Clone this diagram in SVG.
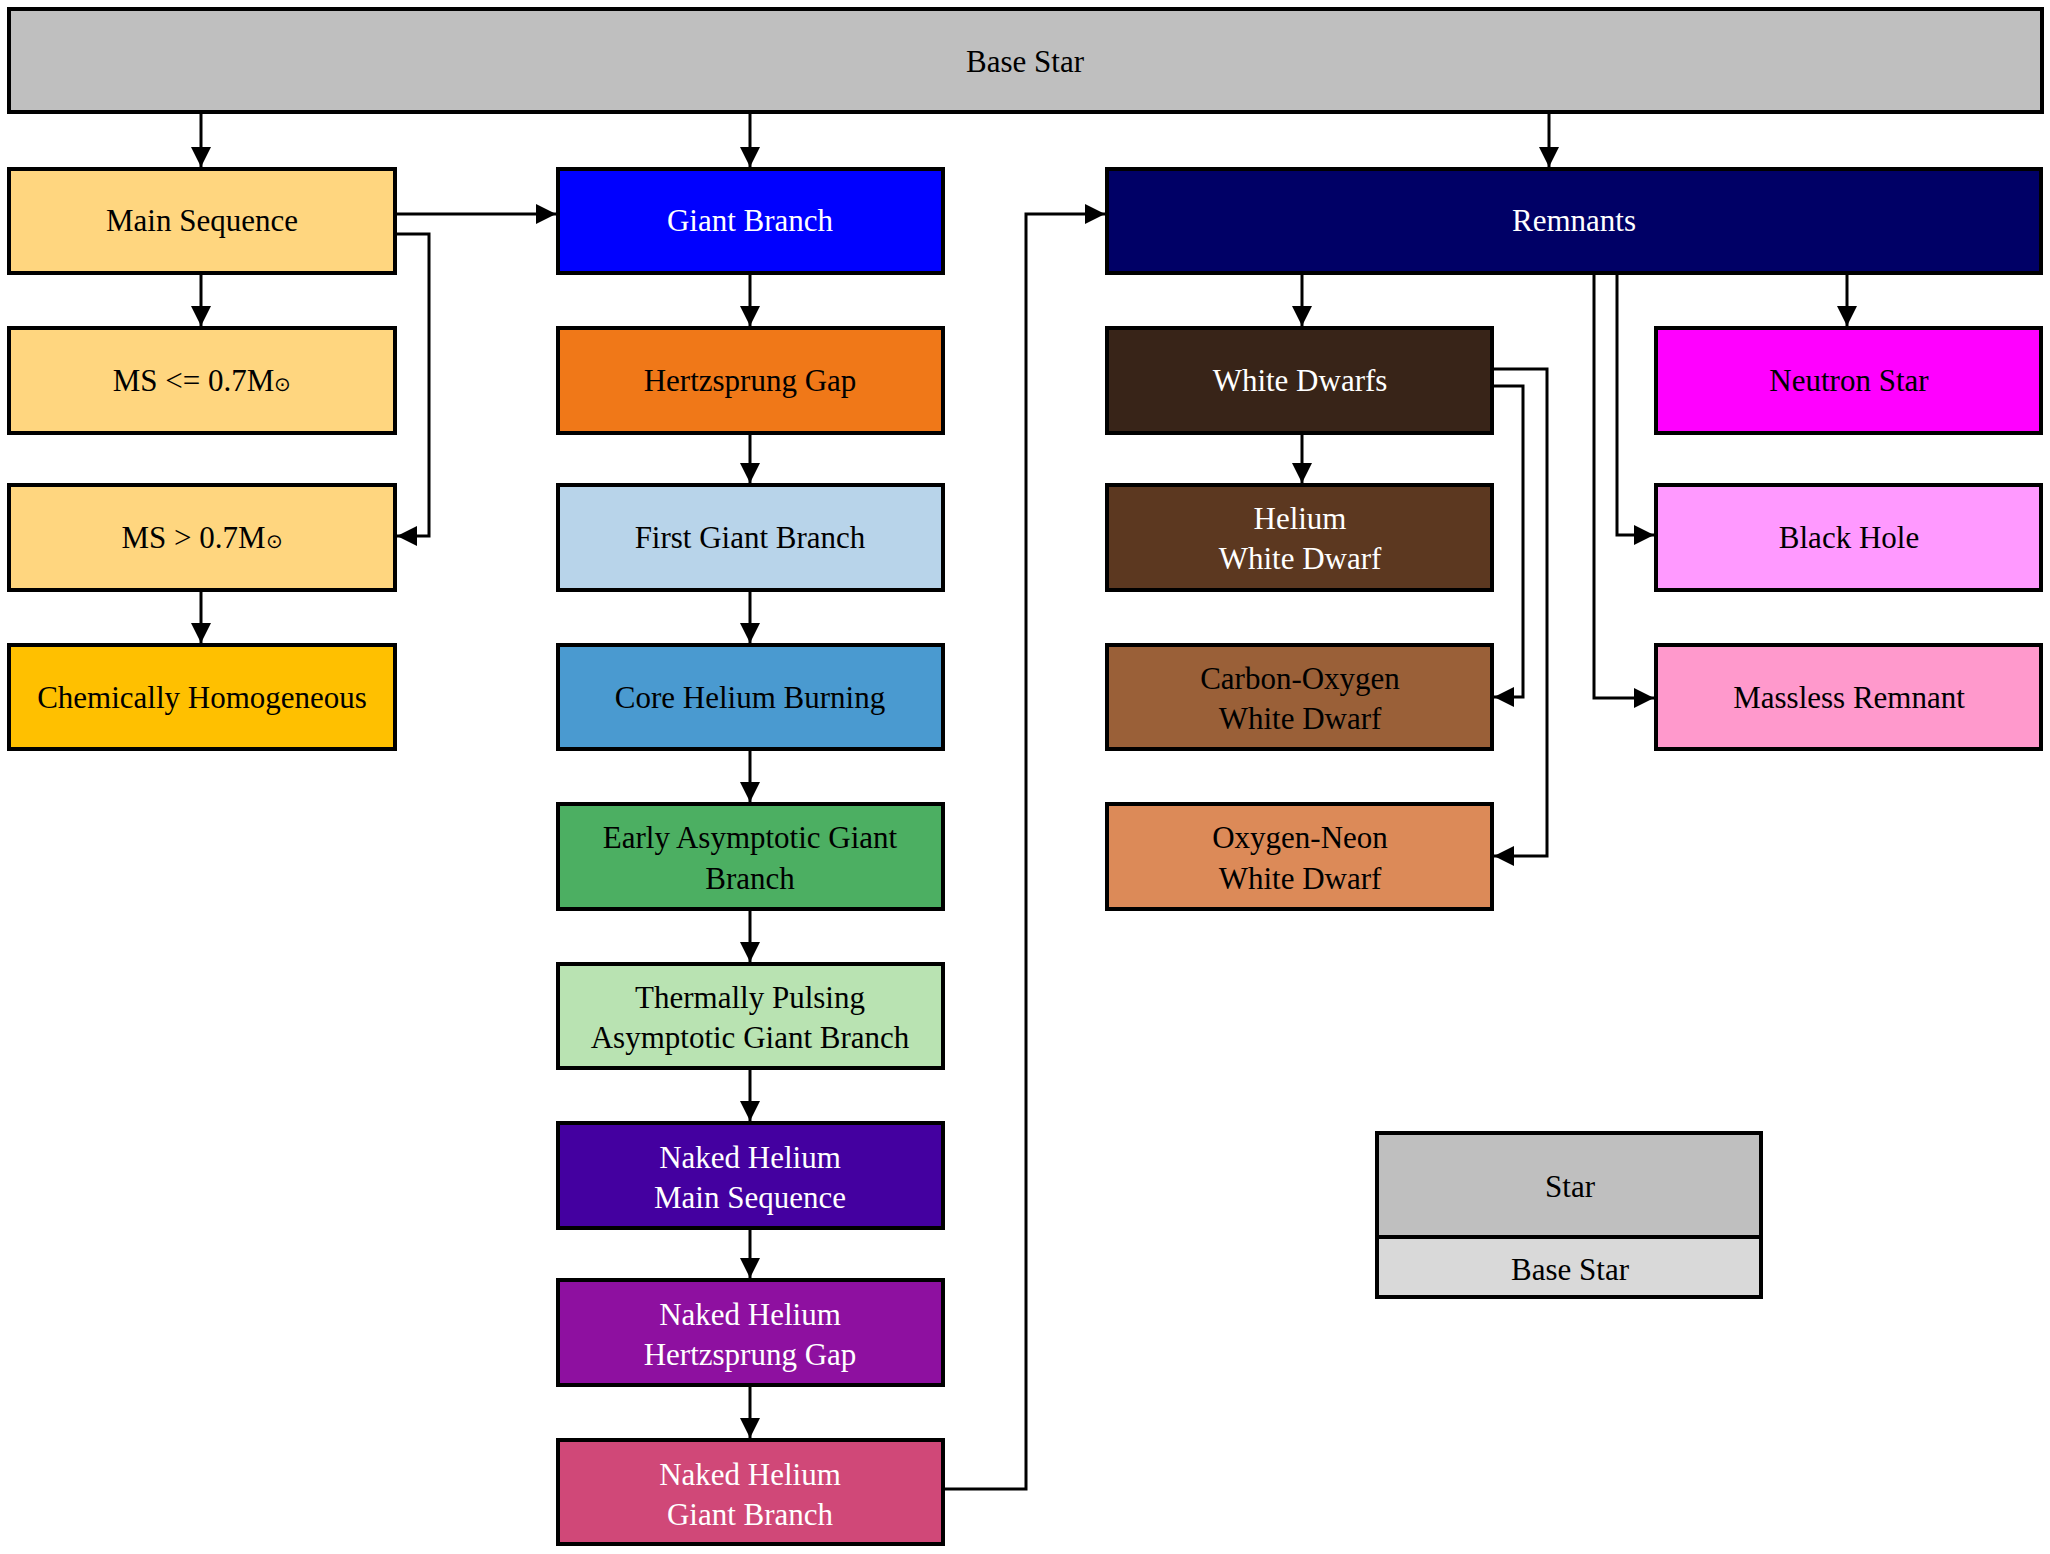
<svg xmlns="http://www.w3.org/2000/svg" width="2050" height="1554" viewBox="0 0 2050 1554">
<style>
rect{stroke:#000;stroke-width:4}
text{font-family:"Liberation Serif","Times New Roman",serif;font-size:31px;text-anchor:middle;fill:#000}
.w{fill:#fff}
.c path{fill:none;stroke:#000;stroke-width:3}
</style>
<defs><marker id="a" markerWidth="8" markerHeight="8" refX="7" refY="4" orient="auto" markerUnits="userSpaceOnUse" viewBox="0 0 8 8"><path d="M0,0L8,4L0,8z" fill="#000"/></marker>
<marker id="b" viewBox="0 0 10 10" refX="10" refY="5" markerWidth="20" markerHeight="20" markerUnits="userSpaceOnUse" orient="auto"><path d="M0,0L10,5L0,10z" fill="#000"/></marker></defs>
<g class="c">
<path d="M201,112V167" marker-end="url(#b)"/>
<path d="M750,112V167" marker-end="url(#b)"/>
<path d="M1549,112V167" marker-end="url(#b)"/>
<path d="M395,214H556" marker-end="url(#b)"/>
<path d="M395,234H429V536H397" marker-end="url(#b)"/>
<path d="M201,273V326" marker-end="url(#b)"/>
<path d="M201,590V643" marker-end="url(#b)"/>
<path d="M750,273V326" marker-end="url(#b)"/>
<path d="M750,433V483" marker-end="url(#b)"/>
<path d="M750,590V643" marker-end="url(#b)"/>
<path d="M750,749V802" marker-end="url(#b)"/>
<path d="M750,909V962" marker-end="url(#b)"/>
<path d="M750,1068V1121" marker-end="url(#b)"/>
<path d="M750,1228V1278" marker-end="url(#b)"/>
<path d="M750,1385V1438" marker-end="url(#b)"/>
<path d="M943,1489H1026V214H1105" marker-end="url(#b)"/>
<path d="M1302,273V326" marker-end="url(#b)"/>
<path d="M1847,273V326" marker-end="url(#b)"/>
<path d="M1617,273V535H1654" marker-end="url(#b)"/>
<path d="M1594,273V698H1654" marker-end="url(#b)"/>
<path d="M1302,433V483" marker-end="url(#b)"/>
<path d="M1492,386H1523V697H1494" marker-end="url(#b)"/>
<path d="M1492,369H1547V856H1494" marker-end="url(#b)"/>
</g>
<g id="base"><rect x="9" y="9" width="2033" height="103" fill="#bfbfbf"/><text x="1025" y="72">Base Star</text></g>
<g id="ms"><rect x="9" y="169" width="386" height="104" fill="#ffd67f"/><text x="202" y="231">Main Sequence</text></g>
<g id="msl"><rect x="9" y="328" width="386" height="105" fill="#ffd67f"/><text x="202" y="391">MS &lt;= 0.7M<tspan font-size="20">⊙</tspan></text></g>
<g id="msg"><rect x="9" y="485" width="386" height="105" fill="#ffd67f"/><text x="202" y="548">MS &gt; 0.7M<tspan font-size="20">⊙</tspan></text></g>
<g id="chem"><rect x="9" y="645" width="386" height="104" fill="#ffc000"/><text x="202" y="708">Chemically Homogeneous</text></g>
<g id="gb"><rect x="558" y="169" width="385" height="104" fill="#0000ff"/><text class="w" x="750" y="231">Giant Branch</text></g>
<g id="hg"><rect x="558" y="328" width="385" height="105" fill="#f07818"/><text x="750" y="391">Hertzsprung Gap</text></g>
<g id="fgb"><rect x="558" y="485" width="385" height="105" fill="#b8d4ea"/><text x="750" y="548">First Giant Branch</text></g>
<g id="cheb"><rect x="558" y="645" width="385" height="104" fill="#4a9ad0"/><text x="750" y="708">Core Helium Burning</text></g>
<g id="eagb"><rect x="558" y="804" width="385" height="105" fill="#4caf62"/><text x="750" y="848">Early Asymptotic Giant</text><text x="750" y="889">Branch</text></g>
<g id="tpagb"><rect x="558" y="964" width="385" height="104" fill="#b9e3b2"/><text x="750" y="1008">Thermally Pulsing</text><text x="750" y="1048">Asymptotic Giant Branch</text></g>
<g id="nhms"><rect x="558" y="1123" width="385" height="105" fill="#4400a0"/><text class="w" x="750" y="1168">Naked Helium</text><text class="w" x="750" y="1208">Main Sequence</text></g>
<g id="nhhg"><rect x="558" y="1280" width="385" height="105" fill="#8e10a0"/><text class="w" x="750" y="1325">Naked Helium</text><text class="w" x="750" y="1365">Hertzsprung Gap</text></g>
<g id="nhgb"><rect x="558" y="1440" width="385" height="104" fill="#d04878"/><text class="w" x="750" y="1485">Naked Helium</text><text class="w" x="750" y="1525">Giant Branch</text></g>
<g id="rem"><rect x="1107" y="169" width="934" height="104" fill="#000066"/><text class="w" x="1574" y="231">Remnants</text></g>
<g id="wd"><rect x="1107" y="328" width="385" height="105" fill="#382418"/><text class="w" x="1300" y="391">White Dwarfs</text></g>
<g id="hewd"><rect x="1107" y="485" width="385" height="105" fill="#5c3820"/><text class="w" x="1300" y="529">Helium</text><text class="w" x="1300" y="569">White Dwarf</text></g>
<g id="cowd"><rect x="1107" y="645" width="385" height="104" fill="#9a6038"/><text x="1300" y="689">Carbon-Oxygen</text><text x="1300" y="729">White Dwarf</text></g>
<g id="onwd"><rect x="1107" y="804" width="385" height="105" fill="#dc8a58"/><text x="1300" y="848">Oxygen-Neon</text><text x="1300" y="889">White Dwarf</text></g>
<g id="ns"><rect x="1656" y="328" width="385" height="105" fill="#ff00ff"/><text x="1849" y="391">Neutron Star</text></g>
<g id="bh"><rect x="1656" y="485" width="385" height="105" fill="#ff99ff"/><text x="1849" y="548">Black Hole</text></g>
<g id="mr"><rect x="1656" y="645" width="385" height="104" fill="#ff99cc"/><text x="1849" y="708">Massless Remnant</text></g>
<g id="legend"><rect x="1377" y="1133" width="384" height="104" fill="#bfbfbf" stroke="none"/><rect x="1377" y="1237" width="384" height="60" fill="#d9d9d9" stroke="none"/><rect x="1377" y="1133" width="384" height="164" fill="none"/><path d="M1377,1237H1761" stroke="#000" stroke-width="4" stroke-dasharray="16,8"/><text x="1570" y="1197">Star</text><text x="1570" y="1280" fill="#333">Base Star</text></g>
</svg>
